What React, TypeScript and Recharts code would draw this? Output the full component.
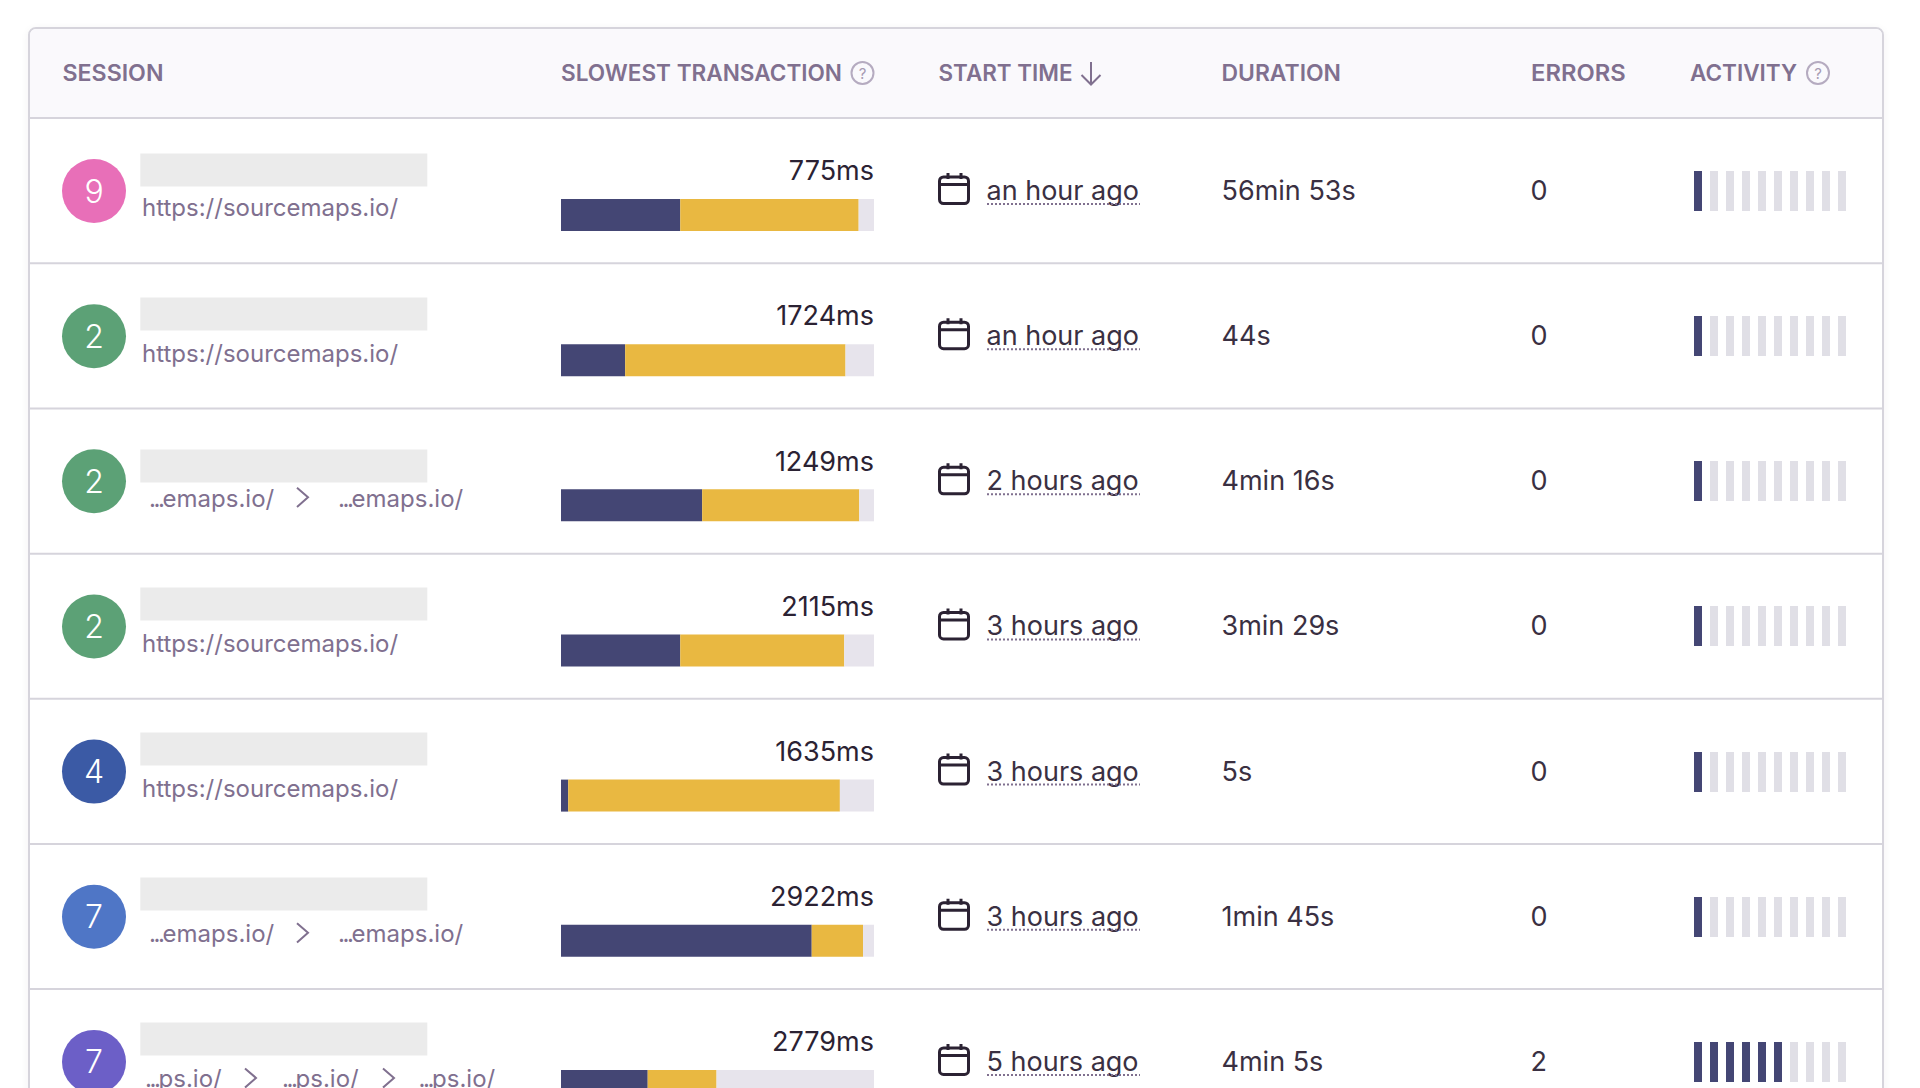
import { BarChart, Bar, Cell, XAxis, YAxis } from "recharts";

// one entry per table row, top to bottom
const avatarDigits = ["9", "2", "2", "2", "4", "7", "7"];
const avatarColors = ["#e86fb8", "#5ca176", "#5ca176", "#5ca176", "#3b5aa5", "#4f76c6", "#6c5fc7"];
const pageTrails = [
  ["https://sourcemaps.io/"],
  ["https://sourcemaps.io/"],
  ["...emaps.io/", "...emaps.io/"],
  ["https://sourcemaps.io/"],
  ["https://sourcemaps.io/"],
  ["...emaps.io/", "...emaps.io/"],
  ["...ps.io/", "...ps.io/", "...ps.io/"],
];
const slowestLabels = ["775ms", "1724ms", "1249ms", "2115ms", "1635ms", "2922ms", "2779ms"];
// share of each bar, in percent
const blockingShare = [38.1, 20.5, 45.1, 38.1, 2.3, 80.1, 27.7];
const loadingShare = [57, 70.4, 50.2, 52.4, 86.8, 16.4, 22];
const restShare = [4.9, 9.1, 4.7, 9.5, 10.9, 3.5, 50.3];
const startTimes = ["an hour ago", "an hour ago", "2 hours ago", "3 hours ago", "3 hours ago", "3 hours ago", "5 hours ago"];
const durations = ["56min 53s", "44s", "4min 16s", "3min 29s", "5s", "1min 45s", "4min 5s"];
const errorCounts = ["0", "0", "0", "0", "0", "0", "2"];
const activityLevels = [1, 1, 1, 1, 1, 1, 6];
const activitySlots = ["1", "2", "3", "4", "5", "6", "7", "8", "9", "10"];

const slowestTable = slowestLabels.map((label, i) => ({
  label,
  blocking: blockingShare[i],
  loading: loadingShare[i],
  rest: restShare[i],
}));

const ROW_STEP = 145.15;
const FONT = "Inter, sans-serif";
const MUTED = "#80708f";
const INK = "#2b2233";
const SOFT_INK = "#3a3042";
const rowCenter = (i: number) => 191 + ROW_STEP * i;

// layout of the redacted blocks and the two breadcrumb shapes
const redactionTops = [153.5, 297.5, 449.5, 587.5, 732.5, 877.5, 1022.5];
const trailX: Record<number, number[]> = { 1: [142], 2: [149, 338], 3: [145, 282, 418.5] };
const chevronX: Record<number, number[]> = { 1: [], 2: [297], 3: [245, 383] };

function Calendar({ x, y }: { x: number; y: number }) {
  return (
    <g fill="none" stroke={INK} strokeWidth={3}>
      <rect x={x + 1.5} y={y + 4} width={29} height={26.5} rx={4} />
      <path d={`M${x + 1.5} ${y + 11.5}H${x + 30.5}M${x + 10} ${y}V${y + 6}M${x + 23} ${y}V${y + 6}`} />
    </g>
  );
}

function Help({ cx }: { cx: number }) {
  return (
    <g>
      <circle cx={cx} cy={73} r={11} fill="none" stroke="#b5abc0" strokeWidth={2} />
      <text x={cx} y={79} textAnchor="middle" fontSize={15} fill="#a79bb3" fontFamily={FONT}>?</text>
    </g>
  );
}

// the leading dots are much tighter in the reference
function Crumb({ text, x, y }: { text: string; x: number; y: number }) {
  const dotted = text.startsWith("...");
  return (
    <text x={x} y={y} fontSize={24} fill={MUTED} fontFamily={FONT}>
      {dotted && <tspan letterSpacing={-2.4}>...</tspan>}
      {dotted ? text.slice(3) : text}
    </text>
  );
}

function Overlay() {
  const head = { y: 80.7, fontSize: 22.5, fontWeight: 600, fill: MUTED, fontFamily: FONT, lengthAdjust: "spacingAndGlyphs" as const };
  return (
    <svg width={1920} height={1088} style={{ position: "absolute", left: 0, top: 0 }}>
      <text x={62.5} textLength={101} {...head}>SESSION</text>
      <text x={561} textLength={281} {...head}>SLOWEST TRANSACTION</text>
      <text x={938.5} textLength={134} {...head}>START TIME</text>
      <text x={1221.5} textLength={119.5} {...head}>DURATION</text>
      <text x={1531} textLength={94.6} {...head}>ERRORS</text>
      <text x={1690} textLength={107} {...head}>ACTIVITY</text>
      <Help cx={862.5} />
      <Help cx={1818} />
      <path d="M1091 62V84M1081.5 75L1091 84.5L1100.5 75" fill="none" stroke={MUTED} strokeWidth={2} />

      {[0, 1, 2, 3, 4, 5, 6].map((i) => {
        const c = rowCenter(i);
        const trail = pageTrails[i];
        const xs = trailX[trail.length];
        return (
          <g key={i}>
            {i > 0 && <line x1={29} x2={1883} y1={c - 72.8} y2={c - 72.8} stroke="#d6d4dc" strokeWidth={2} />}
            <circle cx={94} cy={c} r={32} fill={avatarColors[i]} />
            <text x={94} y={c + 11.5} textAnchor="middle" fontSize={32} fontWeight={300} fill="#fff" fontFamily={FONT}>{avatarDigits[i]}</text>
            <rect x={140.3} y={redactionTops[i]} width={287} height={33} fill="#ebebeb" />
            {trail.map((t, k) => (
              <Crumb key={k} text={t} x={xs[k]} y={c + 25.4} />
            ))}
            {chevronX[trail.length].map((x) => (
              <polyline
                key={x}
                points={`${x},${c + 6.5} ${x + 11},${c + 16} ${x},${c + 25.7}`}
                fill="none"
                stroke={MUTED}
                strokeWidth={2}
              />
            ))}
            <text x={874} y={c - 10.8} textAnchor="end" fontSize={27} fill={INK} fontFamily={FONT}>{slowestLabels[i]}</text>
            <Calendar x={938} y={c - 18} />
            <text x={986.5} y={c + 9} fontSize={27} fill={SOFT_INK} fontFamily={FONT}>{startTimes[i]}</text>
            <line x1={987} x2={1140} y1={c + 13} y2={c + 13} stroke={MUTED} strokeWidth={2} strokeDasharray="2 2" />
            <text x={1221.5} y={c + 9} fontSize={27} fill={SOFT_INK} fontFamily={FONT}>{durations[i]}</text>
            <text x={1530.5} y={c + 9} fontSize={27} fill={SOFT_INK} fontFamily={FONT}>{errorCounts[i]}</text>
          </g>
        );
      })}
    </svg>
  );
}

function ActivityBars({ level, top }: { level: number; top: number }) {
  const data = activitySlots.map((slot) => ({ slot, value: 1 }));
  return (
    <div style={{ position: "absolute", left: 1690, top }}>
      <BarChart width={160} height={40} data={data} margin={{ top: 0, right: 0, bottom: 0, left: 0 }} barCategoryGap={0}>
        <XAxis dataKey="slot" hide />
        <YAxis hide domain={[0, 1]} />
        <Bar dataKey="value" barSize={8} isAnimationActive={false}>
          {data.map((d, i) => (
            <Cell key={d.slot} fill={i < level ? "#444674" : "#e0dfe6"} />
          ))}
        </Bar>
      </BarChart>
    </div>
  );
}

export default function App() {
  return (
    <div style={{ position: "fixed", left: 0, top: 0, width: 1920, height: 1088, overflow: "hidden", background: "#fff" }}>
      <div
        style={{
          position: "absolute",
          left: 28,
          top: 27,
          width: 1856,
          height: 1200,
          boxSizing: "border-box",
          border: "2px solid #d6d4dc",
          borderRadius: 8,
          boxShadow: "0 2px 8px rgba(43,34,51,0.06)",
          overflow: "hidden",
        }}
      >
        <div style={{ height: 88, background: "#faf9fc", borderBottom: "2px solid #d6d4dc" }} />
      </div>
      <Overlay />
      <div style={{ position: "absolute", left: 561, top: 214.3 - ROW_STEP / 2 }}>
        <BarChart
          width={313}
          height={ROW_STEP * 7}
          data={slowestTable}
          layout="vertical"
          margin={{ top: 0, right: 0, bottom: 0, left: 0 }}
          barCategoryGap={0}
        >
          <XAxis type="number" hide domain={[0, 100]} />
          <YAxis type="category" dataKey="label" hide />
          <Bar dataKey="blocking" stackId="t" fill="#444674" barSize={32} isAnimationActive={false} />
          <Bar dataKey="loading" stackId="t" fill="#e9b841" barSize={32} isAnimationActive={false} />
          <Bar dataKey="rest" stackId="t" fill="#e7e4ec" barSize={32} isAnimationActive={false} />
        </BarChart>
      </div>
      {activityLevels.map((level, i) => (
        <ActivityBars key={i} level={level} top={Math.round(rowCenter(i) - 20)} />
      ))}
    </div>
  );
}
